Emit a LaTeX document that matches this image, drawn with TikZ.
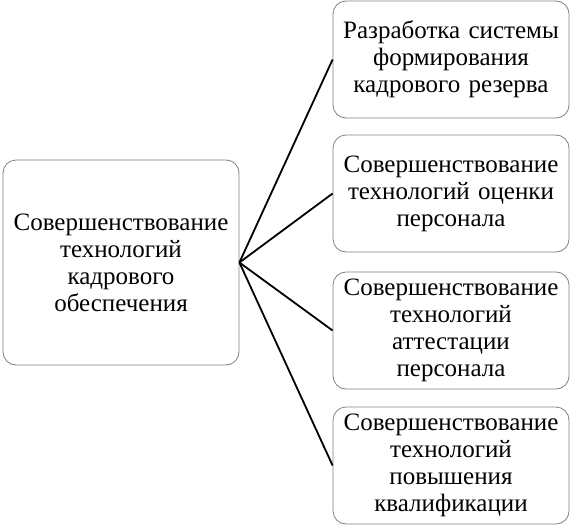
\documentclass[tikz,border=0pt]{standalone}
\usepackage{fontspec}
\setmainfont{Liberation Serif}
\usepackage{tikz}

\tikzset{
  blk/.style={draw=black!50, line width=0.8pt, rounded corners=13pt, fill=white,
    align=center, inner sep=2pt, text width=232pt,
    font=\fontsize{25}{27}\selectfont},
  conn/.style={line width=1.8pt}
}

\begin{document}
\begin{tikzpicture}[x=1pt, y=-1pt]
      \useasboundingbox (0,0) rectangle (572,527);

      \coordinate (Main) at (121, 262.5);
      \coordinate (Rez) at (451, 59.5);
      \coordinate (Ots) at (451, 193.5);
      \coordinate (Att) at (451, 330.5);
      \coordinate (Kval) at (451, 465.5);

      \node[blk, minimum width=236pt, minimum height=205pt] (M) at (Main)
        {Совершенствование\\ технологий\\ кадрового\\ обеспечения};

      \node[blk, minimum width=236pt, minimum height=117pt] (R) at (Rez)
        {Разработка системы\\ формирования\\ кадрового резерва};
      \node[blk, minimum width=236pt, minimum height=117pt] (O) at (Ots)
        {Совершенствование\\ технологий оценки\\ персонала};
      \node[blk, minimum width=236pt, minimum height=117pt] (A) at (Att)
        {Совершенствование\\ технологий\\ аттестации\\ персонала};
      \node[blk, minimum width=236pt, minimum height=117pt] (K) at (Kval)
        {Совершенствование\\ технологий\\ повышения\\ квалификации};

      \draw[conn] (M.east) -- (R.west);
      \draw[conn] (M.east) -- (O.west);
      \draw[conn] (M.east) -- (A.west);
      \draw[conn] (M.east) -- (K.west);
\end{tikzpicture}
\end{document}
